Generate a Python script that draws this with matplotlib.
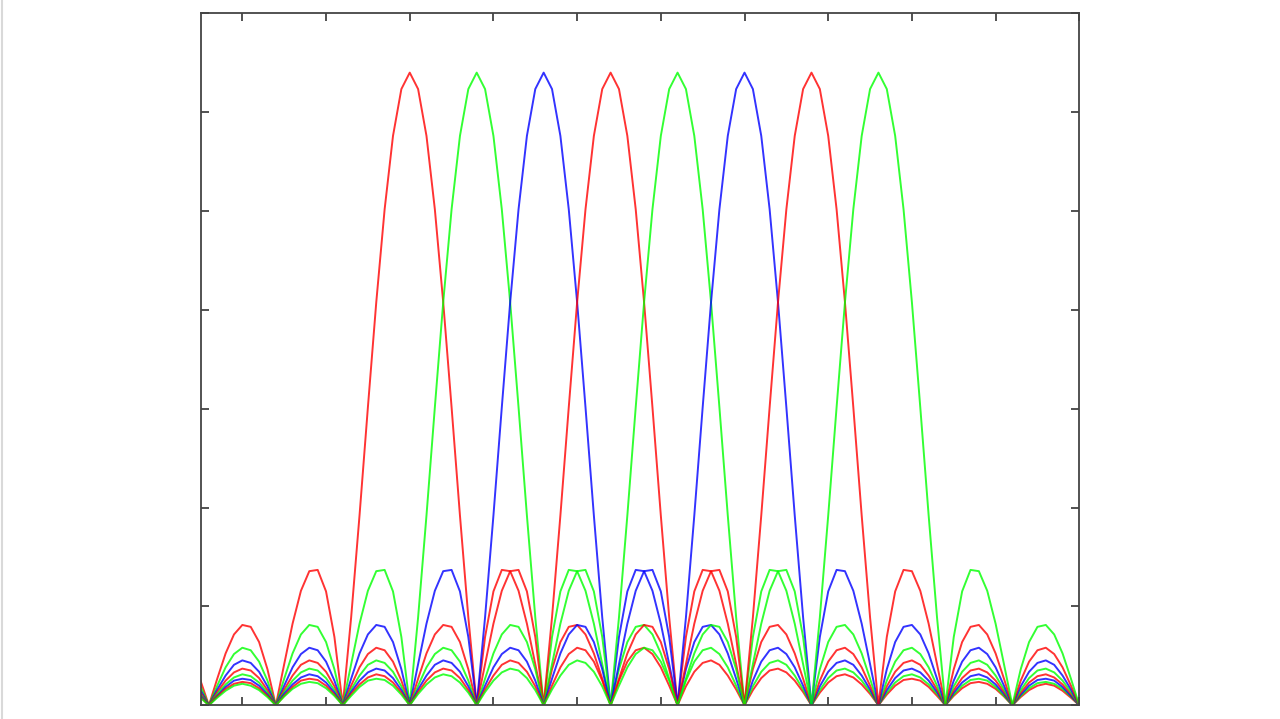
import numpy as np
import matplotlib
matplotlib.use("Agg")
import matplotlib.pyplot as plt
from matplotlib.lines import Line2D

# sample grid along the x axis (step 0.1)
x_start, x_stop, x_step = -0.5, 10.0, 0.1

# peak position of each response and its colour
centers = [2.0, 2.8, 3.6, 4.4, 5.2, 6.0, 6.8, 7.6]
colors = ["#ff0000", "#00ff00", "#0000ff", "#ff0000",
          "#00ff00", "#0000ff", "#ff0000", "#00ff00"]
peak_height = 6.4

# magnitude of one response, per sample away from its peak
profile = [1.000, 0.974, 0.900, 0.784, 0.637, 0.471, 0.300, 0.139, 0.000,
           0.108, 0.180, 0.214, 0.212, 0.181, 0.129, 0.065, 0.000,
           0.057, 0.100, 0.124, 0.127, 0.112, 0.082, 0.042, 0.000,
           0.039, 0.069, 0.087, 0.091, 0.081, 0.060, 0.031, 0.000,
           0.030, 0.053, 0.067, 0.071, 0.064, 0.047, 0.025, 0.000,
           0.024, 0.043, 0.055, 0.058, 0.052, 0.039, 0.021, 0.000,
           0.020, 0.036, 0.046, 0.049, 0.044, 0.033, 0.018, 0.000,
           0.017, 0.031, 0.040, 0.042, 0.039, 0.029, 0.015, 0.000,
           0.015, 0.027, 0.035, 0.037, 0.034, 0.026, 0.014, 0.000,
           0.013, 0.024, 0.031, 0.034, 0.031, 0.023, 0.012, 0.000,
           0.012]

x_ticks = [0, 1, 2, 3, 4, 5, 6, 7, 8, 9, 10]
y_ticks = [0, 1, 2, 3, 4, 5, 6, 7]

n = int(round((x_stop - x_start) / x_step)) + 1
x = np.linspace(x_start, x_stop, n)
prof = np.array(profile)

fig = plt.figure(figsize=(12.8, 7.19), dpi=100)
ax = fig.add_axes([200.5 / 1280, 13.7 / 719, 878.8 / 1280, 692.0 / 719])

idx = np.arange(n)
for c, col in zip(centers, colors):
    ci = int(round((c - x_start) / x_step))
    y = peak_height * prof[np.abs(idx - ci)]
    ax.plot(x, y, color=col, lw=1.4, alpha=0.8)

ax.set_xlim(x_start, x_stop)
ax.set_ylim(0, 7)
ax.set_xticks(x_ticks)
ax.set_yticks(y_ticks)
ax.tick_params(direction="in", length=6, width=1.2, color="#333333",
               top=True, right=True, labelbottom=False, labelleft=False)
for s in ax.spines.values():
    s.set_color("#444444")
    s.set_linewidth(1.3)

# thin grey border at the left edge of the image
fig.add_artist(Line2D([1.5 / 1280, 1.5 / 1280], [0, 1], color="#d9d9d9", lw=1.5))

fig.savefig("out.png", dpi=100)
